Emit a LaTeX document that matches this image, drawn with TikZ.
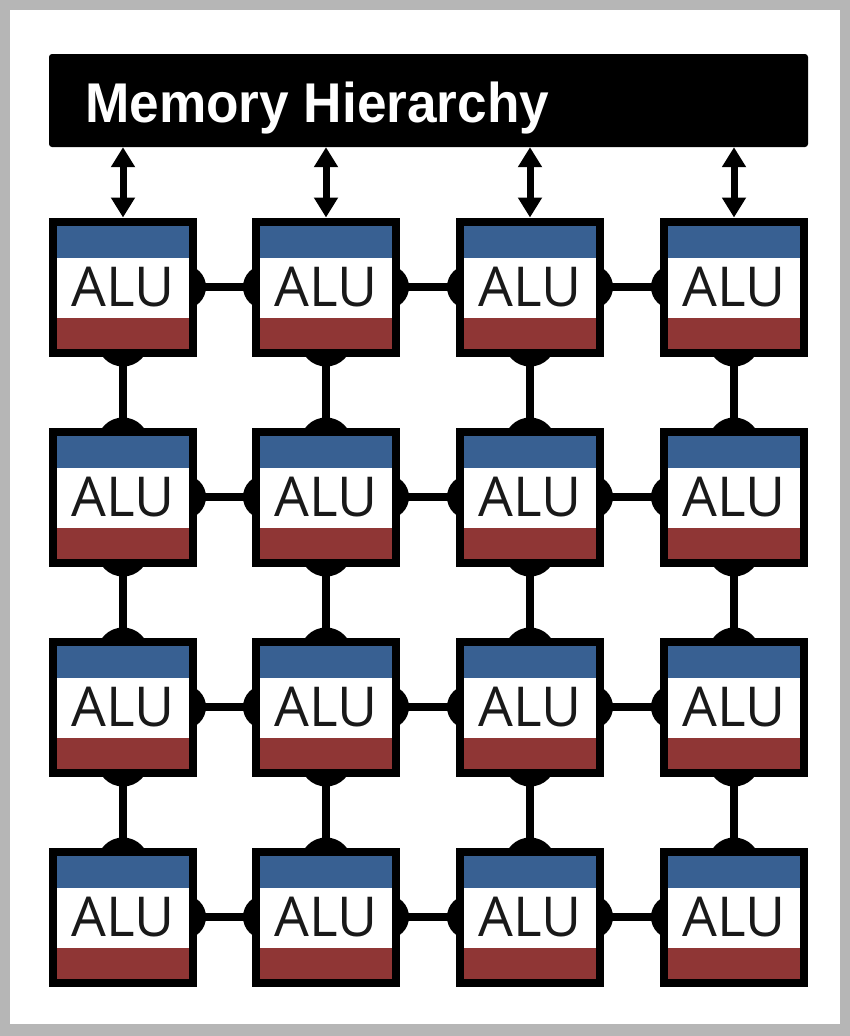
\documentclass[tikz,border=0pt]{standalone}
\usepackage{fontspec}
\setmainfont{Open Sans}
\newfontfamily\memfont{Liberation Sans}[FakeStretch=0.95]
\usetikzlibrary{calc,arrows.meta}
\definecolor{alublue}{RGB}{56,96,146}
\definecolor{alured}{RGB}{143,54,53}
\definecolor{framegrey}{RGB}{182,182,182}
\pgfdeclarelayer{back}
\pgfdeclarelayer{mid}
\pgfsetlayers{back,mid,main}
\tikzset{
  alubox/.style={rectangle, draw=black, line width=8pt, minimum width=140pt,
    minimum height=131pt, inner sep=0pt, fill=white,
    font=\fontsize{55}{55}\selectfont, text=black!90,
    path picture={
      \fill[alublue] (path picture bounding box.north west) rectangle
        ($(path picture bounding box.north east)+(0,36)$);
      \fill[alured] ($(path picture bounding box.north west)+(0,96)$) rectangle
        (path picture bounding box.south east);
    }},
  link/.style={line width=8.5pt, black},
  bump/.style={fill=black},
  memarrow/.style={line width=7pt, black,
    {Triangle[width=23pt,length=20pt]}-{Triangle[width=23pt,length=20pt]}},
  membar/.style={rectangle, fill=black, rounded corners=3pt, minimum width=759pt,
    minimum height=93pt, inner sep=0pt},
  memlabel/.style={text=white, font=\memfont\bfseries\fontsize{56}{56}\selectfont, inner sep=0pt}
}
\begin{document}
\begin{tikzpicture}[x=1pt,y=-1pt]
\useasboundingbox (0,0) rectangle (850,1036);
\begin{pgfonlayer}{back}
  \fill[framegrey] (0,0) rectangle (850,1036);
  \fill[white] (10,10) rectangle (840,1024);
\end{pgfonlayer}
\node[membar] (mem) at (428.5,100.5) {};
\node[memlabel, anchor=base west] (memtext) at (85,122) {Memory Hierarchy};
\foreach \c/\x in {1/123,2/326,3/530,4/734}{
  \foreach \r/\y in {1/287,2/497,3/707,4/917}{
    \node[alubox] (a\r\c) at (\x,\y) {ALU};
  }
}
\begin{pgfonlayer}{mid}
  % horizontal links
  \foreach \r in {1,2,3,4}{
    \foreach \c/\d in {1/2,2/3,3/4}{
      \draw[link] (a\r\c.east) -- (a\r\d.west);
      \fill[bump] ($(a\r\c.east)+(-13,0)$) circle (22);
      \fill[bump] ($(a\r\d.west)+(13,0)$) circle (22);
    }
  }
  % vertical links
  \foreach \c in {1,2,3,4}{
    \foreach \r/\s in {1/2,2/3,3/4}{
      \draw[link] (a\r\c.south) -- (a\s\c.north);
      \fill[bump] ($(a\r\c.south)+(0,-16)$) circle (26);
      \fill[bump] ($(a\s\c.north)+(0,16)$) circle (26);
    }
  }
\end{pgfonlayer}
\foreach \c in {1,2,3,4}{
  \draw[memarrow] (mem.south -| a1\c) -- (a1\c.north);
}
\end{tikzpicture}
\end{document}
